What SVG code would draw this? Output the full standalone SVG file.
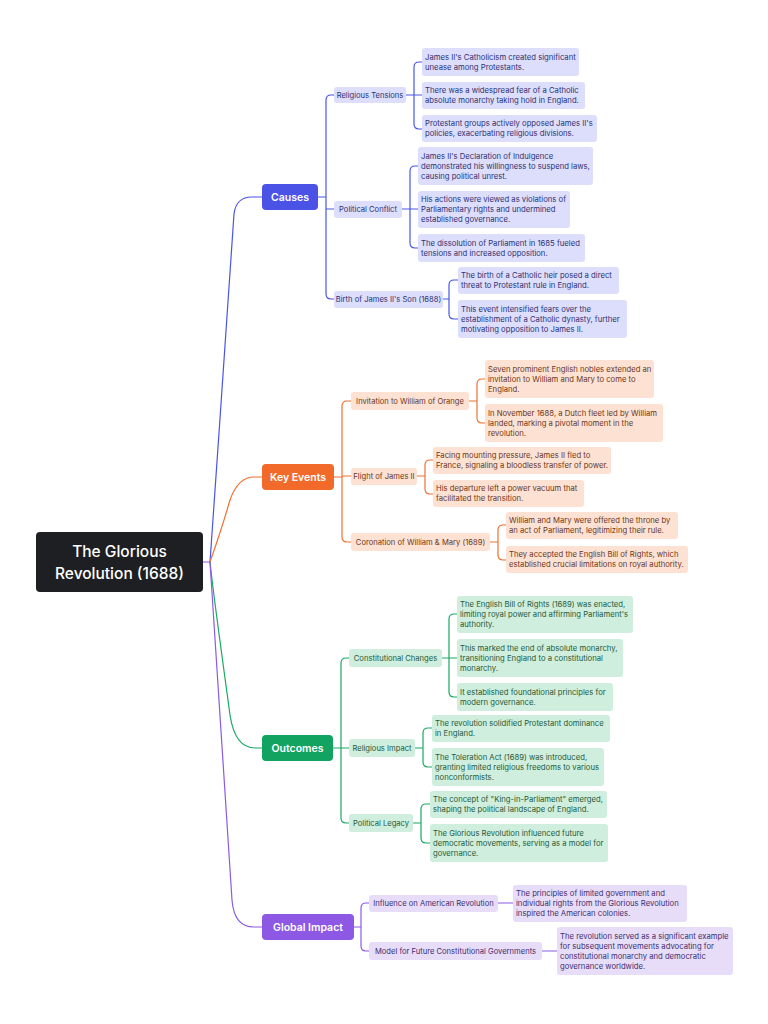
<svg xmlns="http://www.w3.org/2000/svg" width="768" height="1024" viewBox="0 0 768 1024">
<style>
text{font-family:Inter,"Noto Sans","Liberation Sans",sans-serif}
.bg{fill:#ffffff}
.c{fill:none;stroke-width:1.2;stroke-linecap:round;stroke-linejoin:round}
.cb{stroke:#4a55e8}.co{stroke:#f07030}.cg{stroke:#18a864}.cp{stroke:#8b5ae6}
.root{fill:#1e1f23}
.rt{fill:#ffffff;font-size:15.5px;font-weight:500;text-anchor:middle}
.mt{fill:#ffffff;font-size:10.5px;font-weight:600;text-anchor:middle}
.st{font-size:7.6px;text-anchor:middle}
.lt{font-size:7.7px}
.mb{fill:#4a53e6}.mo{fill:#f26a2a}.mg{fill:#11a35f}.mp{fill:#8c58e4}
.fb{fill:#dcdefc}.fo{fill:#fde2d4}.fg{fill:#cfeedd}.fp{fill:#e7ddf8}
.tb{fill:#2c3175}.to{fill:#6b3620}.tg{fill:#1f5a3a}.tp{fill:#3e2d70}
</style>
<rect class="bg" x="0" y="0" width="768" height="1024"/>

<g id="connectors">
  <path class="c cp" d="M203 562 H210"/>
  <path class="c cb" d="M210 562 C218 450 228 300 234 214 Q236 197 252 197 H262"/>
  <path class="c co" d="M210 562 Q222 528 230 500 Q238 477 254 477 H262"/>
  <path class="c cg" d="M210 562 C214 600 224 670 230 715 Q235 748 255 748 H262"/>
  <path class="c cp" d="M210 562 L232 900 Q234 927 254 927 H262"/>

  <path class="c cb" d="M318 197 H326 M326 209 H334 M334 95 H331 Q326 95 326 100 V294 Q326 299 331 299 H334"/>
  <path class="c cb" d="M406 95 H422 M422 62 H419 Q414 62 414 67 V124 Q414 129 419 129 H422"/>
  <path class="c cb" d="M402 209 H418 M418 166 H415 Q410 166 410 171 V243 Q410 248 415 248 H418"/>
  <path class="c cb" d="M443 299 H449 M458 280 H454 Q449 280 449 285 V314 Q449 319 454 319 H458"/>

  <path class="c co" d="M334 477 H342 M342 476 H351 M351 401 H347 Q342 401 342 406 V537 Q342 542 347 542 H351"/>
  <path class="c co" d="M469 401 H477 M485 379 H482 Q477 379 477 384 V418 Q477 423 482 423 H485"/>
  <path class="c co" d="M417 476 H425 M433 460 H430 Q425 460 425 465 V489 Q425 494 430 494 H433"/>
  <path class="c co" d="M490 542 H498 M506 525 H503 Q498 525 498 530 V555 Q498 560 503 560 H506"/>

  <path class="c cg" d="M333 748 H349 M349 658 H346 Q341 658 341 663 V818 Q341 823 346 823 H349"/>
  <path class="c cg" d="M442 658 H457 M457 614 H454 Q449 614 449 619 V692 Q449 697 454 697 H457"/>
  <path class="c cg" d="M415 748 H423 M432 728 H428 Q423 728 423 733 V762 Q423 767 428 767 H432"/>
  <path class="c cg" d="M413 823 H421 M430 804 H426 Q421 804 421 809 V838 Q421 843 426 843 H430"/>

  <path class="c cp" d="M354 927 H361 M369 903 H366 Q361 903 361 908 V946 Q361 951 366 951 H369"/>
  <path class="c cp" d="M498 903 H513"/>
  <path class="c cp" d="M542 951 H557"/>
</g>

<g id="root">
  <rect class="root" x="36" y="532" width="167" height="60" rx="4"/>
  <text class="rt" x="119.5" y="557">The Glorious</text>
  <text class="rt" x="119.5" y="579">Revolution (1688)</text>
</g>

<!-- Causes -->
<g id="causes">
  <rect class="mb" x="262" y="184" width="56" height="26" rx="4"/>
  <text class="mt" x="290" y="200.8">Causes</text>
</g>
<g id="religious-tensions">
  <rect class="fb" x="334" y="87" width="72" height="16" rx="3"/>
  <text class="st tb" x="370" y="97.7">Religious Tensions</text>
</g>
<g id="rt-1">
  <rect class="fb" x="422" y="48" width="157" height="28" rx="3"/>
  <text class="lt tb" x="425" y="59.7">James II's Catholicism created significant</text>
  <text class="lt tb" x="425" y="69.7">unease among Protestants.</text>
</g>
<g id="rt-2">
  <rect class="fb" x="422" y="82" width="163" height="27" rx="3"/>
  <text class="lt tb" x="425" y="93.2">There was a widespread fear of a Catholic</text>
  <text class="lt tb" x="425" y="103.2">absolute monarchy taking hold in England.</text>
</g>
<g id="rt-3">
  <rect class="fb" x="422" y="115" width="175" height="27" rx="3"/>
  <text class="lt tb" x="425" y="126.2">Protestant groups actively opposed James II's</text>
  <text class="lt tb" x="425" y="136.2">policies, exacerbating religious divisions.</text>
</g>
<g id="political-conflict">
  <rect class="fb" x="334" y="201" width="68" height="17" rx="3"/>
  <text class="st tb" x="368" y="212.2">Political Conflict</text>
</g>
<g id="pc-1">
  <rect class="fb" x="418" y="147" width="175" height="38" rx="3"/>
  <text class="lt tb" x="421" y="158.7">James II's Declaration of Indulgence</text>
  <text class="lt tb" x="421" y="168.7">demonstrated his willingness to suspend laws,</text>
  <text class="lt tb" x="421" y="178.7">causing political unrest.</text>
</g>
<g id="pc-2">
  <rect class="fb" x="418" y="191" width="152" height="37" rx="3"/>
  <text class="lt tb" x="421" y="202.2">His actions were viewed as violations of</text>
  <text class="lt tb" x="421" y="212.2">Parliamentary rights and undermined</text>
  <text class="lt tb" x="421" y="222.2">established governance.</text>
</g>
<g id="pc-3">
  <rect class="fb" x="418" y="234" width="167" height="28" rx="3"/>
  <text class="lt tb" x="421" y="245.7">The dissolution of Parliament in 1685 fueled</text>
  <text class="lt tb" x="421" y="255.7">tensions and increased opposition.</text>
</g>
<g id="birth-son">
  <rect class="fb" x="334" y="291" width="109" height="17" rx="3"/>
  <text class="st tb" x="388.5" y="302.2">Birth of James II's Son (1688)</text>
</g>
<g id="bs-1">
  <rect class="fb" x="458" y="267" width="161" height="27" rx="3"/>
  <text class="lt tb" x="461" y="278.2">The birth of a Catholic heir posed a direct</text>
  <text class="lt tb" x="461" y="288.2">threat to Protestant rule in England.</text>
</g>
<g id="bs-2">
  <rect class="fb" x="458" y="300" width="169" height="38" rx="3"/>
  <text class="lt tb" x="461" y="311.7">This event intensified fears over the</text>
  <text class="lt tb" x="461" y="321.7">establishment of a Catholic dynasty, further</text>
  <text class="lt tb" x="461" y="331.7">motivating opposition to James II.</text>
</g>

<!-- Key Events -->
<g id="key-events">
  <rect class="mo" x="262" y="464" width="72" height="26" rx="4"/>
  <text class="mt" x="298" y="480.8">Key Events</text>
</g>
<g id="invitation">
  <rect class="fo" x="351" y="392" width="118" height="18" rx="3"/>
  <text class="st to" x="410" y="403.7">Invitation to William of Orange</text>
</g>
<g id="inv-1">
  <rect class="fo" x="485" y="360" width="169" height="38" rx="3"/>
  <text class="lt to" x="488" y="371.7">Seven prominent English nobles extended an</text>
  <text class="lt to" x="488" y="381.7">invitation to William and Mary to come to</text>
  <text class="lt to" x="488" y="391.7">England.</text>
</g>
<g id="inv-2">
  <rect class="fo" x="485" y="404" width="178" height="38" rx="3"/>
  <text class="lt to" x="488" y="415.7">In November 1688, a Dutch fleet led by William</text>
  <text class="lt to" x="488" y="425.7">landed, marking a pivotal moment in the</text>
  <text class="lt to" x="488" y="435.7">revolution.</text>
</g>
<g id="flight">
  <rect class="fo" x="351" y="468" width="66" height="17" rx="3"/>
  <text class="st to" x="384" y="479.2">Flight of James II</text>
</g>
<g id="fl-1">
  <rect class="fo" x="433" y="447" width="178" height="27" rx="3"/>
  <text class="lt to" x="436" y="458.2">Facing mounting pressure, James II fled to</text>
  <text class="lt to" x="436" y="468.2">France, signaling a bloodless transfer of power.</text>
</g>
<g id="fl-2">
  <rect class="fo" x="433" y="480" width="151" height="27" rx="3"/>
  <text class="lt to" x="436" y="491.2">His departure left a power vacuum that</text>
  <text class="lt to" x="436" y="501.2">facilitated the transition.</text>
</g>
<g id="coronation">
  <rect class="fo" x="351" y="533" width="139" height="18" rx="3"/>
  <text class="st to" x="420.5" y="544.7">Coronation of William &amp; Mary (1689)</text>
</g>
<g id="co-1">
  <rect class="fo" x="506" y="512" width="172" height="27" rx="3"/>
  <text class="lt to" x="509" y="523.2">William and Mary were offered the throne by</text>
  <text class="lt to" x="509" y="533.2">an act of Parliament, legitimizing their rule.</text>
</g>
<g id="co-2">
  <rect class="fo" x="506" y="546" width="182" height="27" rx="3"/>
  <text class="lt to" x="509" y="557.2">They accepted the English Bill of Rights, which</text>
  <text class="lt to" x="509" y="567.2">established crucial limitations on royal authority.</text>
</g>

<!-- Outcomes -->
<g id="outcomes">
  <rect class="mg" x="262" y="735" width="71" height="26" rx="4"/>
  <text class="mt" x="297.5" y="751.8">Outcomes</text>
</g>
<g id="constitutional">
  <rect class="fg" x="349" y="649" width="93" height="18" rx="3"/>
  <text class="st tg" x="395.5" y="660.7">Constitutional Changes</text>
</g>
<g id="cc-1">
  <rect class="fg" x="457" y="596" width="176" height="37" rx="3"/>
  <text class="lt tg" x="460" y="607.2">The English Bill of Rights (1689) was enacted,</text>
  <text class="lt tg" x="460" y="617.2">limiting royal power and affirming Parliament's</text>
  <text class="lt tg" x="460" y="627.2">authority.</text>
</g>
<g id="cc-2">
  <rect class="fg" x="457" y="639" width="166" height="38" rx="3"/>
  <text class="lt tg" x="460" y="650.7">This marked the end of absolute monarchy,</text>
  <text class="lt tg" x="460" y="660.7">transitioning England to a constitutional</text>
  <text class="lt tg" x="460" y="670.7">monarchy.</text>
</g>
<g id="cc-3">
  <rect class="fg" x="457" y="683" width="156" height="28" rx="3"/>
  <text class="lt tg" x="460" y="694.7">It established foundational principles for</text>
  <text class="lt tg" x="460" y="704.7">modern governance.</text>
</g>
<g id="religious-impact">
  <rect class="fg" x="349" y="739" width="66" height="18" rx="3"/>
  <text class="st tg" x="382" y="750.7">Religious Impact</text>
</g>
<g id="ri-1">
  <rect class="fg" x="432" y="715" width="178" height="27" rx="3"/>
  <text class="lt tg" x="435" y="726.2">The revolution solidified Protestant dominance</text>
  <text class="lt tg" x="435" y="736.2">in England.</text>
</g>
<g id="ri-2">
  <rect class="fg" x="432" y="748" width="172" height="38" rx="3"/>
  <text class="lt tg" x="435" y="759.7">The Toleration Act (1689) was introduced,</text>
  <text class="lt tg" x="435" y="769.7">granting limited religious freedoms to various</text>
  <text class="lt tg" x="435" y="779.7">nonconformists.</text>
</g>
<g id="political-legacy">
  <rect class="fg" x="349" y="814" width="64" height="18" rx="3"/>
  <text class="st tg" x="381" y="825.7">Political Legacy</text>
</g>
<g id="pl-1">
  <rect class="fg" x="430" y="791" width="177" height="27" rx="3"/>
  <text class="lt tg" x="433" y="802.2">The concept of "King-in-Parliament" emerged,</text>
  <text class="lt tg" x="433" y="812.2">shaping the political landscape of England.</text>
</g>
<g id="pl-2">
  <rect class="fg" x="430" y="824" width="178" height="38" rx="3"/>
  <text class="lt tg" x="433" y="835.7">The Glorious Revolution influenced future</text>
  <text class="lt tg" x="433" y="845.7">democratic movements, serving as a model for</text>
  <text class="lt tg" x="433" y="855.7">governance.</text>
</g>

<!-- Global Impact -->
<g id="global-impact">
  <rect class="mp" x="262" y="914" width="92" height="26" rx="4"/>
  <text class="mt" x="308" y="930.8">Global Impact</text>
</g>
<g id="american">
  <rect class="fp" x="369" y="895" width="129" height="17" rx="3"/>
  <text class="st tp" x="433.5" y="906.2">Influence on American Revolution</text>
</g>
<g id="am-1">
  <rect class="fp" x="513" y="885" width="174" height="37" rx="3"/>
  <text class="lt tp" x="516" y="896.2">The principles of limited government and</text>
  <text class="lt tp" x="516" y="906.2">individual rights from the Glorious Revolution</text>
  <text class="lt tp" x="516" y="916.2">inspired the American colonies.</text>
</g>
<g id="model">
  <rect class="fp" x="369" y="942" width="173" height="18" rx="3"/>
  <text class="st tp" x="455.5" y="953.7">Model for Future Constitutional Governments</text>
</g>
<g id="mo-1">
  <rect class="fp" x="557" y="927" width="176" height="48" rx="3"/>
  <text class="lt tp" x="560" y="938.7">The revolution served as a significant example</text>
  <text class="lt tp" x="560" y="948.7">for subsequent movements advocating for</text>
  <text class="lt tp" x="560" y="958.7">constitutional monarchy and democratic</text>
  <text class="lt tp" x="560" y="968.7">governance worldwide.</text>
</g>
</svg>
